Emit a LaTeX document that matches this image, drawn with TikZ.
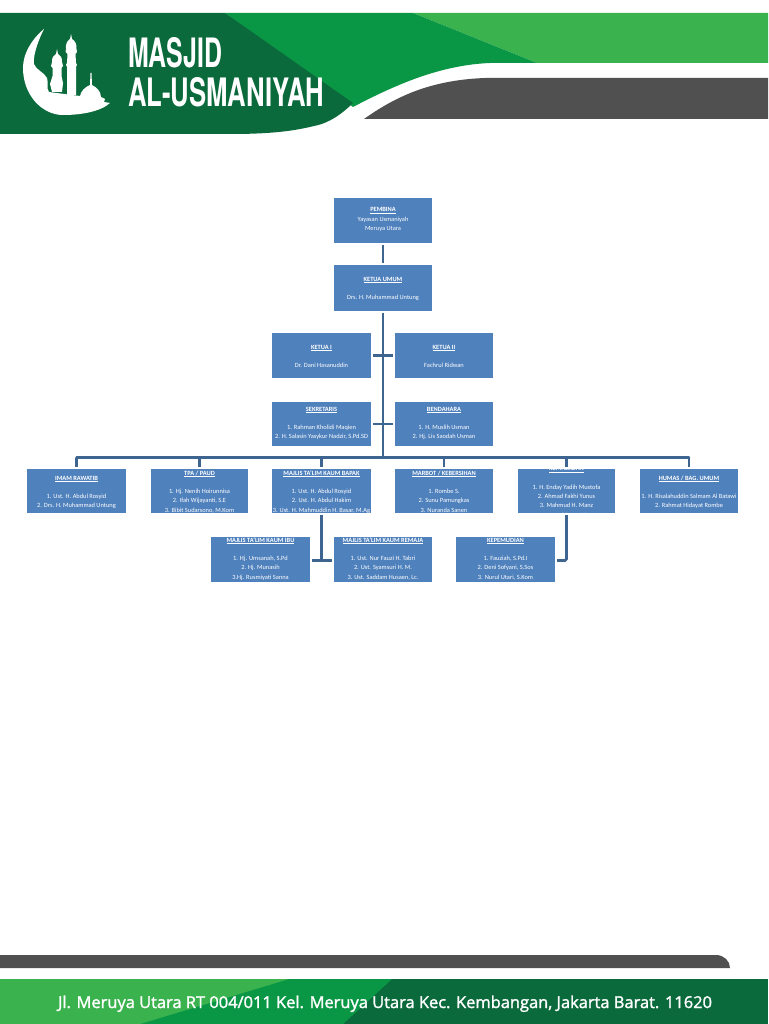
\documentclass[tikz,border=0pt]{standalone}
\usepackage{fontspec}
\usepackage{graphicx}
\setmainfont{Carlito}
\newfontfamily\headfont{TeX Gyre Heros}
\newfontfamily\footfont[FakeBold=1.6]{Open Sans}
\definecolor{gdark}{HTML}{0B6A3C}
\definecolor{gmid}{HTML}{0A9745}
\definecolor{glight}{HTML}{3AB24E}
\definecolor{ggray}{HTML}{505050}
\definecolor{boxblue}{HTML}{4F81BD}
\definecolor{connblue}{HTML}{3E6590}
\tikzset{
  orgbox/.style={fill=boxblue,draw=none,inner sep=0pt,outer sep=0pt,text=white,font=\fontsize{6.4}{9.3}\selectfont},
  conn/.style={draw=connblue,line width=2.6pt,shorten >=2pt,shorten <=2pt},
  busline/.style={draw=connblue,line width=2.4pt},
  logoink/.style={fill=white,draw=none}
}
% name, x1, y1, x2, y2, top offset, title, lines
\newcommand{\orgnode}[8]{%
  \pgfmathsetmacro{\ow}{#4-#2}\pgfmathsetmacro{\oh}{#5-#3}%
  \node[orgbox,minimum width=\ow pt,minimum height=\oh pt] (#1) at ({(#2+#4)/2},{(#3+#5)/2})
  {\parbox[c][\oh pt][t]{\ow pt}{\centering\fontsize{6.4}{9.3}\selectfont\vspace*{#6pt}\rule{0pt}{5pt}\underline{\textbf{#7}}\\#8\par}};%
}
\begin{document}
\begin{tikzpicture}[x=1pt,y=-1pt]
\useasboundingbox (0,0) rectangle (768,1024);
\fill[white] (0,0) rectangle (768,1024);
% header
\fill[glight] (413,13) -- (768,13) -- (768,63) -- (537,63) -- cycle;
\fill[gmid] (225,13) -- (413,13) -- (537,63) -- (490,63) .. controls (440,65) and (395,85) .. (353,107) -- cycle;
\fill[gdark] (0,13) -- (225,13) -- (353,103) .. controls (343,113) and (330,123) .. (314,126) .. controls (290,132) and (265,134) .. (230,134) -- (0,134) -- cycle;
\fill[ggray] (364,119) .. controls (395,97) and (430,80) .. (485,78) -- (768,78) -- (768,119) -- cycle;
% logo
\fill[logoink] (44,29) .. controls (31,40) and (23,54) .. (23,68) .. controls (23,95) and (42,115) .. (63,115)
  .. controls (80,115) and (100,112) .. (110,103) -- (104,102) -- (105,99) -- (101,97) .. controls (101,91) and (96,87) .. (92,85)
  -- (91.5,73) -- (90.5,73) -- (90,85) .. controls (85,87) and (81,91) .. (80,96) -- (49,92)
  .. controls (46,88) and (49,84) .. (47,78) .. controls (44,72) and (36,70) .. (34,64) .. controls (33,58) and (36,45) .. (44,29) -- cycle;
\fill[logoink] (71,34) -- (72,39) .. controls (75,41) and (77,44) .. (76.5,49) -- (77,52) -- (75.5,54) -- (76,63) -- (77,65) -- (76,67) -- (76,95) -- (67,95) -- (67,67) -- (66,65) -- (67,63) -- (67.5,54) -- (65.5,52) -- (66,49) .. controls (65.5,44) and (67,41) .. (70,39) -- cycle;
\fill[logoink] (57,49) -- (58,54) .. controls (61,55) and (62,58) .. (62,62) -- (63,66) -- (61.5,68) -- (61.5,76) -- (63,83) -- (62,92) -- (52,92) -- (50,84) -- (52.5,76) -- (52.5,68) -- (51,66) -- (52,62) .. controls (52,58) and (53,55) .. (56,54) -- cycle;
% header text
\node[inner sep=0pt,text=white,anchor=south west] (t1) at (128,68) {\resizebox{94pt}{30pt}{\headfont\bfseries MASJID}};
\node[inner sep=0pt,text=white,anchor=south west] (t2) at (128,107) {\resizebox{196pt}{29pt}{\headfont\bfseries AL-USMANIYAH}};
% footer
\path[fill=ggray] (0,955) -- (716,955) .. controls (724,955) and (730,961) .. (730,968) -- (0,968) -- cycle;
\fill[gdark] (0,979) rectangle (768,1024);
\fill[gmid] (0,979) -- (392,979) -- (343,1024) -- (0,1024) -- cycle;
\fill[glight] (0,979) -- (289,979) -- (140,1024) -- (0,1024) -- cycle;
\node[inner sep=0pt,text=white,anchor=base] (addr) at (385,1008) {\resizebox{654pt}{12.4pt}{\footfont Jl. Meruya Utara RT 004/011 Kel. Meruya Utara Kec. Kembangan, Jakarta Barat. 11620}};
% boxes
\orgnode{pembina}{334}{198}{432}{243}{9}{PEMBINA}{Yayasan Usmaniyah\\Meruya Utara}
\orgnode{ketuaumum}{334}{265}{432}{311}{11}{KETUA UMUM}{\mbox{}\\Drs. H. Muhammad Untung}
\orgnode{ketuaone}{272}{333}{371}{378}{11}{KETUA I}{\mbox{}\\Dr. Dani Hasanuddin}
\orgnode{ketuatwo}{395}{333}{493}{378}{11}{KETUA II}{\mbox{}\\Fachrul Ridwan}
\orgnode{sekretaris}{272}{402}{371}{446}{4}{SEKRETARIS}{\mbox{}\\1. Rahman Kholidi Maqien\\2. H. Salasin Yasykur Nadzir, S.Pd.SD}
\orgnode{bendahara}{395}{402}{493}{446}{4}{BENDAHARA}{\mbox{}\\1. H. Muslih Usman\\2. Hj. Lis Saodah Usman}
\orgnode{imam}{27}{469}{126}{513}{6}{IMAM RAWATIB}{\mbox{}\\1. Ust. H. Abdul Rosyid\\2. Drs. H. Muhammad Untung}
\orgnode{tpa}{151}{469}{248}{513}{1}{TPA / PAUD}{\mbox{}\\1. Hj. Nenih Hoirunnisa\\2. Ifah Wijayanti, S.E\\3. Bibit Sudarsono, M.Kom}
\orgnode{bapak}{272}{469}{371}{513}{1}{MAJLIS TA'LIM KAUM BAPAK}{\mbox{}\\1. Ust. H. Abdul Rosyid\\2. Ust. H. Abdul Hakim\\3. Ust. H. Mahmuddin H. Basar, M.Ag}
\orgnode{marbot}{395}{469}{493}{513}{1}{MARBOT / KEBERSIHAN}{\mbox{}\\1. Rombe S.\\2. Sunu Pamungkas\\3. Nuranda Sanen}
\orgnode{mubaligh}{518}{469}{615}{513}{-3.5}{KEMASJIDAN}{\mbox{}\\1. H. Enday Yadih Mustofa\\2. Ahmad Fakhi Yunus\\3. Mahmud H. Manz\\4. Hasbianor BZ}
\orgnode{humas}{640}{469}{738}{513}{6}{HUMAS / BAG. UMUM}{\mbox{}\\1. H. Risalahuddin Salmam Al Batawi\\2. Rahmat Hidayat Rombe}
\orgnode{ibu}{211}{537}{310}{582}{0}{MAJLIS TA'LIM KAUM IBU}{\mbox{}\\1. Hj. Umsanah, S.Pd\\2. Hj. Munasih\\3.Hj. Rusmiyati Sanna}
\orgnode{remaja}{334}{537}{432}{582}{0}{MAJLIS TA'LIM KAUM REMAJA}{\mbox{}\\1. Ust. Nur Fauzi H. Tabri\\2. Ust. Syamsuri H. M.\\3. Ust. Saddam Husaen, Lc.}
\orgnode{kepemudian}{456}{537}{555}{582}{0}{KEPEMUDIAN}{\mbox{}\\1. Fauziah, S.Pd.I\\2. Deni Sofyani, S.Sos\\3. Nurul Utari, S.Kom}
% connectors
\coordinate (bus) at (383,457.5);
\draw[conn] (pembina) -- (ketuaumum);
\draw[busline,shorten <=2pt] (ketuaumum.south) -- (ketuaumum.south |- bus);
\draw[busline,line cap=round] (imam.north |- bus) -- (humas.north |- bus);
\foreach \n in {imam,tpa,bapak,marbot,mubaligh,humas}
  \draw[busline,shorten >=2pt] (\n.north |- bus) -- (\n.north);
\draw[conn] (ketuaone.east) -- (ketuatwo.west);
\draw[conn] (sekretaris.east) -- (bendahara.west);
\draw[conn] ([yshift=-1pt]ibu.east) -- ([yshift=-1pt]remaja.west);
\draw[conn] (bapak.south) -- ([yshift=-1pt]bapak.south |- ibu.east);
\draw[conn,rounded corners=1.5pt] (mubaligh.south) |- ([yshift=-1pt]kepemudian.east);
\end{tikzpicture}
\end{document}
